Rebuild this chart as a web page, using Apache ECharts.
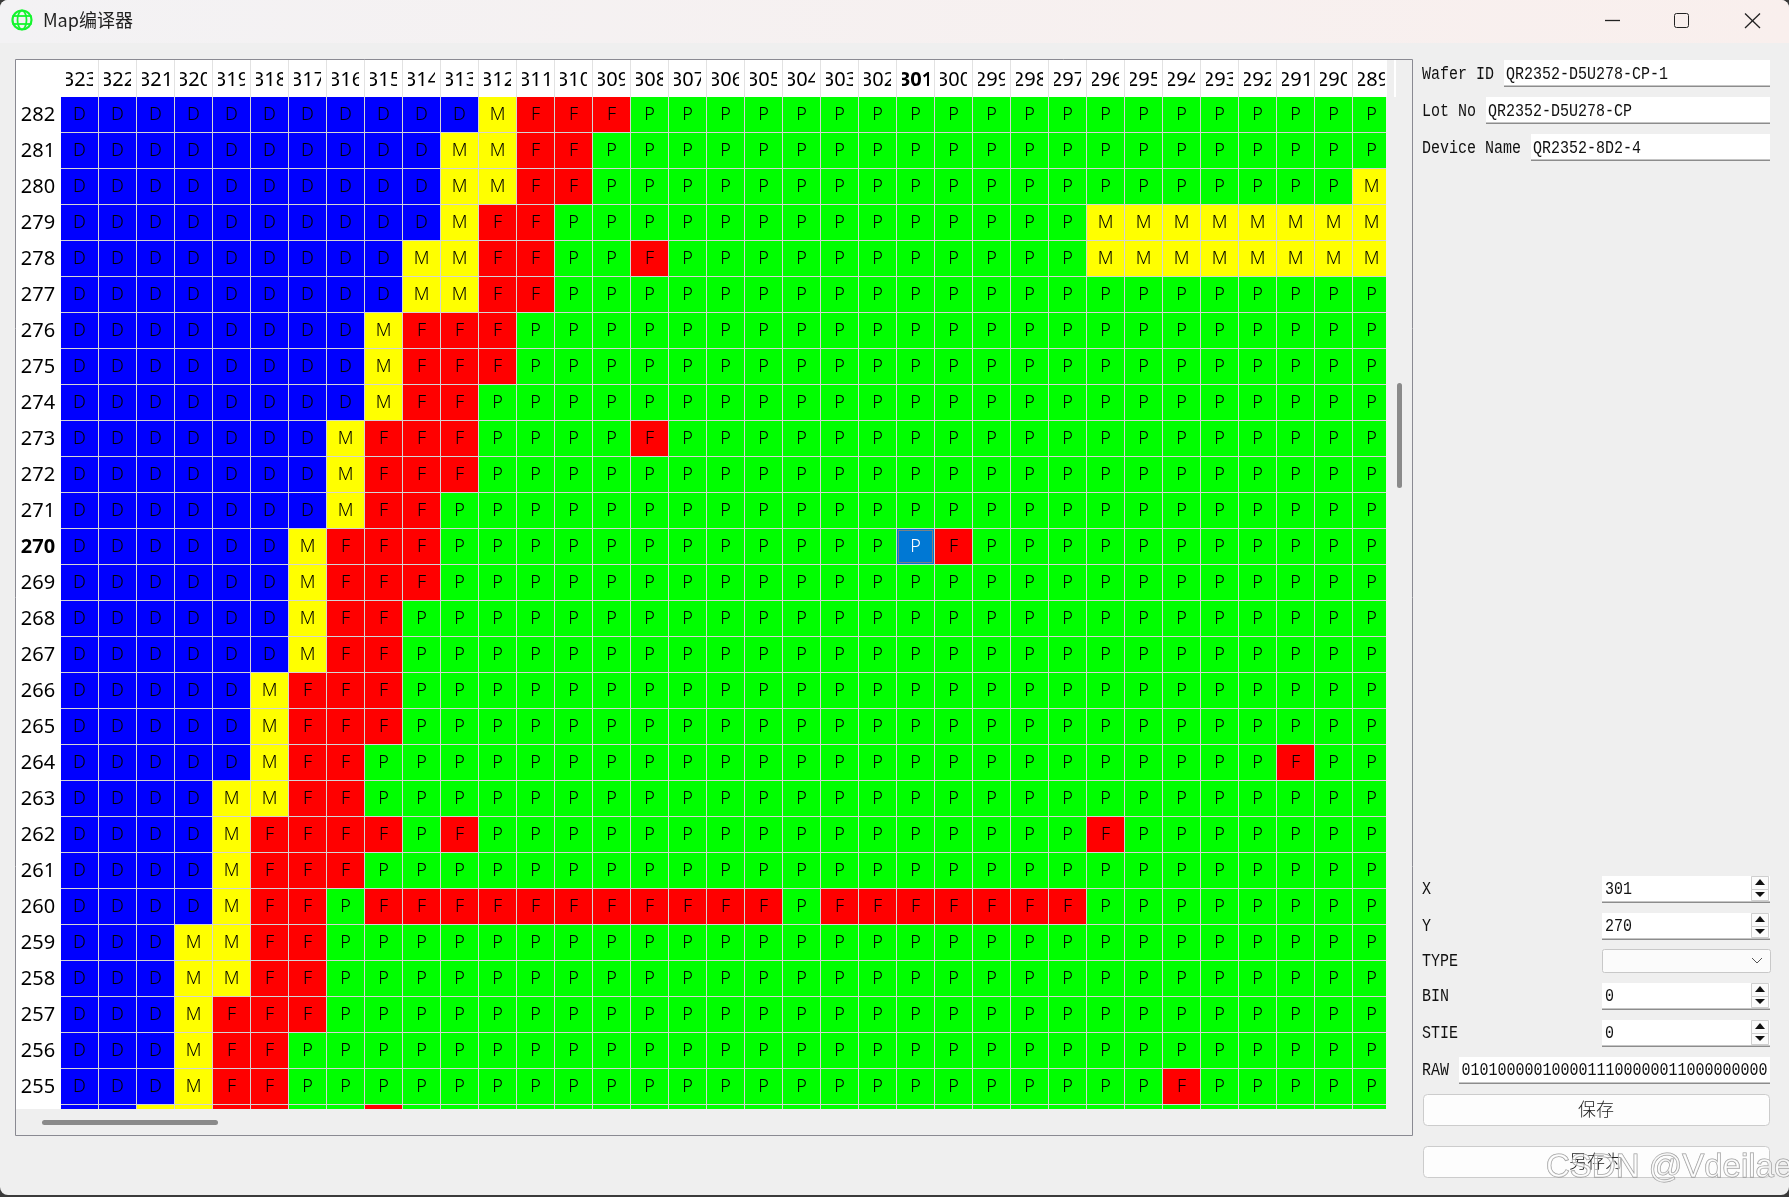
<!DOCTYPE html>
<html>
<head>
<meta charset="utf-8">
<title>Map编译器</title>
<script src="https://cdn.jsdelivr.net/npm/echarts@6/dist/echarts.min.js"></script>
<style>
html, body { margin: 0; padding: 0; background: #3a3a3a; }
#map_chart { width: 1789px; height: 1197px; }
</style>
</head>
<body>
<div id="map_chart"></div>
<script>
var x_labels = ['323','322','321','320','319','318','317','316','315','314','313','312','311','310','309','308','307','306','305','304','303','302','301','300','299','298','297','296','295','294','293','292','291','290','289'];
var y_labels = ['282','281','280','279','278','277','276','275','274','273','272','271','270','269','268','267','266','265','264','263','262','261','260','259','258','257','256','255','254'];
var cell_types = ['D', 'M', 'F', 'P'];
var type_colors = ['#0000ff', '#ffff00', '#ff0000', '#00ff00'];
var map_rows = [
    'DDDDDDDDDDDMFFFPPPPPPPPPPPPPPPPPPPP',
    'DDDDDDDDDDMMFFPPPPPPPPPPPPPPPPPPPPP',
    'DDDDDDDDDDMMFFPPPPPPPPPPPPPPPPPPPPM',
    'DDDDDDDDDDMFFPPPPPPPPPPPPPPMMMMMMMM',
    'DDDDDDDDDMMFFPPFPPPPPPPPPPPMMMMMMMM',
    'DDDDDDDDDMMFFPPPPPPPPPPPPPPPPPPPPPP',
    'DDDDDDDDMFFFPPPPPPPPPPPPPPPPPPPPPPP',
    'DDDDDDDDMFFFPPPPPPPPPPPPPPPPPPPPPPP',
    'DDDDDDDDMFFPPPPPPPPPPPPPPPPPPPPPPPP',
    'DDDDDDDMFFFPPPPFPPPPPPPPPPPPPPPPPPP',
    'DDDDDDDMFFFPPPPPPPPPPPPPPPPPPPPPPPP',
    'DDDDDDDMFFPPPPPPPPPPPPPPPPPPPPPPPPP',
    'DDDDDDMFFFPPPPPPPPPPPPPFPPPPPPPPPPP',
    'DDDDDDMFFFPPPPPPPPPPPPPPPPPPPPPPPPP',
    'DDDDDDMFFPPPPPPPPPPPPPPPPPPPPPPPPPP',
    'DDDDDDMFFPPPPPPPPPPPPPPPPPPPPPPPPPP',
    'DDDDDMFFFPPPPPPPPPPPPPPPPPPPPPPPPPP',
    'DDDDDMFFFPPPPPPPPPPPPPPPPPPPPPPPPPP',
    'DDDDDMFFPPPPPPPPPPPPPPPPPPPPPPPPFPP',
    'DDDDMMFFPPPPPPPPPPPPPPPPPPPPPPPPPPP',
    'DDDDMFFFFPFPPPPPPPPPPPPPPPPFPPPPPPP',
    'DDDDMFFFPPPPPPPPPPPPPPPPPPPPPPPPPPP',
    'DDDDMFFPFFFFFFFFFFFPFFFFFFFPPPPPPPP',
    'DDDMMFFPPPPPPPPPPPPPPPPPPPPPPPPPPPP',
    'DDDMMFFPPPPPPPPPPPPPPPPPPPPPPPPPPPP',
    'DDDMFFFPPPPPPPPPPPPPPPPPPPPPPPPPPPP',
    'DDDMFFPPPPPPPPPPPPPPPPPPPPPPPPPPPPP',
    'DDDMFFPPPPPPPPPPPPPPPPPPPPPPPFPPPPP',
    'DDMMFFPPFPPPPPPPPPPPPPPPPPPPPPPPPPP'
];
var sel_x = '301';
var sel_y = '270';
var wafer_id = 'QR2352-D5U278-CP-1';
var lot_no = 'QR2352-D5U278-CP';
var device_name = 'QR2352-8D2-4';
var raw_bits = '0101000001000011100000011000000000';

var panel = '#efefef';
var ui_font = '"Noto Sans", sans-serif';
var mono_font = '"Liberation Mono", monospace';
var cjk_font = '"Noto Sans CJK SC", sans-serif';

var map_data = [];
map_rows.forEach(function (row, y) {
    row.split('').forEach(function (ch, x) {
        map_data.push([x, y, cell_types.indexOf(ch)]);
    });
});

var map_chart = echarts.init(document.getElementById('map_chart'));

function render_cell(params, api) {
    var c = api.coord([api.value(0), api.value(1)]);
    var s = api.size([1, 1]);
    var left = Math.round(c[0] - s[0] / 2);
    var top = Math.round(c[1] - s[1] / 2);
    var w = s[0] - 1;
    var h = s[1] - 1;
    var t = api.value(2);
    var selected = x_labels[api.value(0)] === sel_x && y_labels[api.value(1)] === sel_y;
    var children = [{
        type: 'rect',
        shape: {x: left, y: top, width: w, height: h},
        style: {fill: selected ? '#0078d4' : type_colors[t]}
    }];
    if (selected) {
        children.push({
            type: 'rect',
            shape: {x: left + 1.5, y: top + 1.5, width: w - 3, height: h - 3},
            style: {fill: 'none', stroke: '#f08a30', lineWidth: 1, lineDash: [1, 1]}
        });
    }
    children.push({
        type: 'text',
        style: {
            x: left + w / 2,
            y: top + h / 2,
            text: cell_types[t],
            align: 'center',
            verticalAlign: 'middle',
            fill: selected ? '#ffffff' : '#000000',
            font: '300 18px ' + ui_font
        }
    });
    return {type: 'group', children: children};
}

map_chart.setOption({
    animation: false,
    grid: {
        left: 61,
        top: 97,
        width: 1330,
        height: 1044,
        show: true,
        backgroundColor: '#d4d4d4',
        borderWidth: 0
    },
    tooltip: {show: false},
    xAxis: {
        type: 'category',
        position: 'top',
        data: x_labels,
        axisLine: {show: false},
        axisTick: {show: false},
        splitLine: {show: false},
        axisLabel: {
            interval: 0,
            margin: 17,
            verticalAlign: 'middle',
            fontFamily: ui_font,
            fontSize: 20,
            color: '#000',
            formatter: function (v) {
                return v === sel_x ? '{sel|' + v + '}' : v;
            },
            rich: {sel: {fontFamily: ui_font, fontSize: 20, fontWeight: 'bold', color: '#000'}}
        }
    },
    yAxis: {
        type: 'category',
        inverse: true,
        data: y_labels,
        axisLine: {show: false},
        axisTick: {show: false},
        splitLine: {show: false},
        axisLabel: {
            interval: 0,
            margin: 23,
            align: 'center',
            padding: [1, 0, 0, 0],
            fontFamily: ui_font,
            fontSize: 20,
            color: '#000',
            formatter: function (v) {
                // the last row is cut off by the frame, its label is not visible
                if (v === '254') return '';
                return v === sel_y ? '{sel|' + v + '}' : v;
            },
            rich: {sel: {fontFamily: ui_font, fontSize: 20, fontWeight: 'bold', color: '#000'}}
        }
    },
    series: [{
        type: 'custom',
        renderItem: render_cell,
        encode: {x: 0, y: 1},
        clip: true,
        silent: true,
        data: map_data
    }]
});

// window chrome ---------------------------------------------------------
var g = [];

function box(x, y, w, h, fill, z, r, stroke) {
    g.push({
        type: 'rect', z: z,
        shape: {x: x, y: y, width: w, height: h, r: r || 0},
        style: {fill: fill, stroke: stroke || null, lineWidth: stroke ? 1 : 0}
    });
}
function line(x1, y1, x2, y2, color, z, width) {
    g.push({
        type: 'line', z: z,
        shape: {x1: x1, y1: y1, x2: x2, y2: y2},
        style: {stroke: color, lineWidth: width || 1}
    });
}
function label(text, x, y, font, fill, align) {
    g.push({
        type: 'text', z: 70, x: x, y: y,
        style: {text: text, x: 0, y: 0, font: font, fill: fill || '#000', align: align || 'left', verticalAlign: 'middle'}
    });
}
function mono(text, x, y) {
    g.push({
        type: 'text', z: 70, x: x, y: y, scaleY: 1.22,
        style: {text: text, x: 0, y: 0, font: '15px ' + mono_font, fill: '#111', align: 'left', verticalAlign: 'middle'}
    });
}
function input(x, y, w, h) {
    box(x, y, w, h, '#ffffff', 5);
    box(x, y + h - 1.5, w, 1.5, '#8c8c8c', 6);
}
function tri(cx, y1, y2) {
    g.push({
        type: 'polygon', z: 70,
        shape: {points: [[cx - 5, y2], [cx + 5, y2], [cx, y1]]},
        style: {fill: '#111'}
    });
}
function spin(y) {
    input(1602, y, 168, 27);
    box(1751.5, y + 0.5, 17, 13, '#fbfbfb', 7, 0, '#cfcfcf');
    box(1751.5, y + 13.5, 17, 11, '#fbfbfb', 7, 0, '#cfcfcf');
    tri(1760, y + 3, y + 9);
    tri(1760, y + 21, y + 16);
}
function button(y, text) {
    box(1423.5, y + 0.5, 346, 31, '#fdfdfd', 5, 4, '#cccccc');
    label(text, 1596, y + 15, '300 18px ' + cjk_font, '#222', 'center');
}

// background, title bar, table frame
box(0, 0, 1789, 1195, panel, -10, 8);
g.push({
    type: 'rect', z: -9,
    shape: {x: 0, y: 0, width: 1789, height: 43, r: [8, 8, 0, 0]},
    style: {fill: new echarts.graphic.LinearGradient(0, 0, 1, 0, [
        {offset: 0, color: '#f3f2f4'}, {offset: 1, color: '#f9efed'}
    ])}
});
box(15.5, 59.5, 1397, 1076, panel, -8, 0, '#8a8a92');
box(16, 60, 45, 1049, '#ffffff', -7);
box(61, 60, 1326, 37, '#ffffff', -7);

// title and window buttons
g.push({type: 'circle', z: 70, shape: {cx: 22, cy: 20, r: 9.5}, style: {fill: 'none', stroke: '#14f52e', lineWidth: 2.2}});
g.push({type: 'ellipse', z: 70, shape: {cx: 22, cy: 20, rx: 4.5, ry: 9.5}, style: {fill: 'none', stroke: '#14f52e', lineWidth: 1.8}});
line(12.5, 16, 31.5, 16, '#14f52e', 70, 1.8);
line(12.5, 24, 31.5, 24, '#14f52e', 70, 1.8);
label('Map编译器', 43, 20, '18px ' + cjk_font, '#222');
line(1605, 20.5, 1620, 20.5, '#222', 70, 1.3);
box(1674.5, 13.5, 14, 14, 'none', 70, 2, '#222');
line(1745, 13.5, 1760, 28, '#222', 70, 1.3);
line(1760, 13.5, 1745, 28, '#222', 70, 1.3);

// scroll bars
box(1397, 383, 5, 105, '#8a8a8a', 70, 2.5);
box(42, 1120, 176, 5, '#8a8a8a', 70, 2.5);

// top fields
mono('Wafer ID', 1422, 74);
input(1504, 60, 266, 27);
mono(wafer_id, 1506, 74);
mono('Lot No', 1422, 111);
input(1486, 97, 284, 27);
mono(lot_no, 1488, 111);
mono('Device Name', 1422, 148);
input(1531, 134, 239, 27);
mono(device_name, 1533, 148);

// bottom fields
mono('X', 1422, 889);
spin(876);
mono(sel_x, 1605, 889);
mono('Y', 1422, 926);
spin(913);
mono(sel_y, 1605, 926);
mono('TYPE', 1422, 961);
box(1602.5, 949.5, 168, 23, '#fbfbfb', 5, 2, '#c8c8c8');
g.push({type: 'polyline', z: 70, shape: {points: [[1752, 958], [1757, 963], [1762, 958]]}, style: {fill: 'none', stroke: '#555', lineWidth: 1}});
mono('BIN', 1422, 996);
spin(983);
mono('0', 1605, 996);
mono('STIE', 1422, 1033);
spin(1020);
mono('0', 1605, 1033);
mono('RAW', 1422, 1070);
input(1459, 1057, 311, 27);
mono(raw_bits, 1461.5, 1070);
button(1094, '保存');
button(1146, '另存为');

// watermark
g.push({
    type: 'text', z: 80, x: 1546, y: 1168,
    style: {
        text: 'CSDN @Vdeilae', x: 0, y: 0, font: '33px "Liberation Sans", sans-serif',
        fill: 'rgba(255,255,255,0.6)', stroke: 'rgba(120,120,120,0.8)', lineWidth: 1,
        align: 'left', verticalAlign: 'middle'
    }
});

// header cells clip their numbers on both sides; separators sit on top
x_labels.forEach(function (v) {
    var left = map_chart.convertToPixel({xAxisIndex: 0}, v) - 19;
    box(left + 32, 60, 11, 37, '#ffffff', 50);
    line(left + 37.5, 60, left + 37.5, 97, '#e2e2e2', 51, 1);
    if (v === x_labels[0]) box(left, 60, 5, 37, '#ffffff', 50);
});

// the table is cut at the frame: hide what scrolled past the right and bottom edge
box(1386, 97, 8, 1012, panel, 60);
box(1387, 60, 7, 37, panel, 60);
box(61, 1109, 1333, 34, panel, 60);
line(16, 1135.5, 1412, 1135.5, '#8a8a92', 61, 1);

map_chart.setOption({graphic: {elements: g}});
</script>
</body>
</html>
